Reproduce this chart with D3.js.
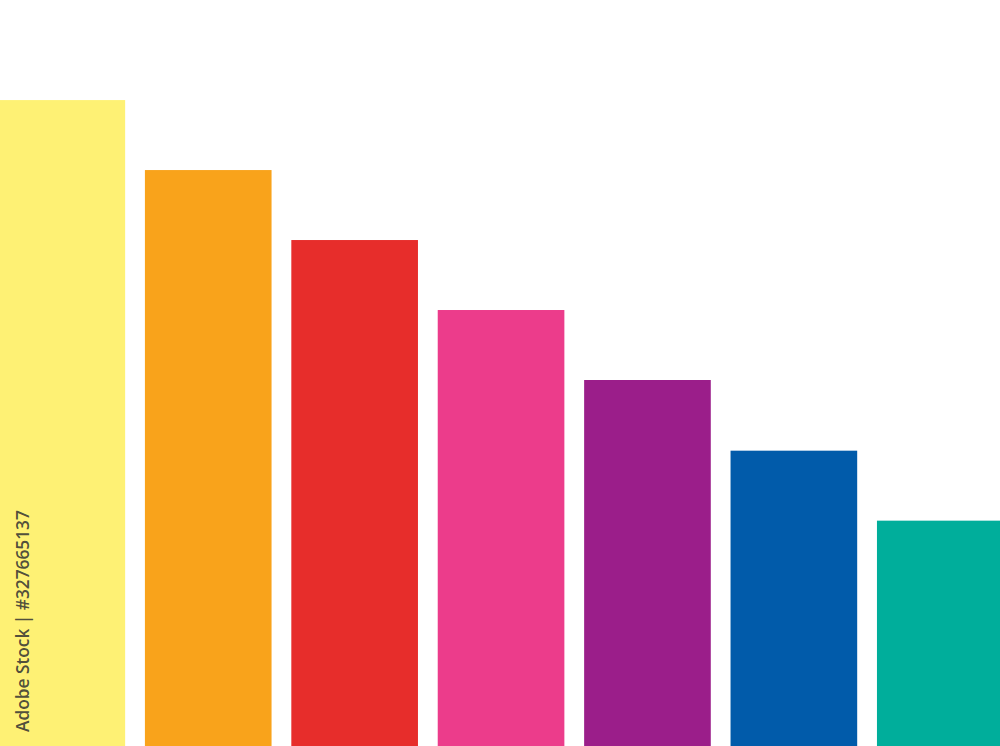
<!DOCTYPE html>
<html>
<head>
<meta charset="utf-8">
<script src="https://cdn.jsdelivr.net/npm/d3@7"></script>
<style>
  html, body { margin: 0; padding: 0; background: #ffffff; }
  svg { display: block; }
</style>
</head>
<body>
<svg id="chart" width="1000" height="746"></svg>
<script>
const categories = ["A", "B", "C", "D", "E", "F", "G"];
const values = [92.3, 82.3, 72.3, 62.3, 52.3, 42.2, 32.2];
const colors = ["#FEF174", "#F9A31B", "#E72D2B", "#EC3C8B", "#9B1E8A", "#015BAA", "#00AE9B"];
const creditText = "Adobe Stock | #327665137";

const W = 1000, H = 746;
const svg = d3.select("#chart");

const x = d3.scaleBand()
  .domain(categories)
  .range([-1.5, 1003.6])
  .paddingInner(0.135)
  .paddingOuter(0);

const y = d3.scaleLinear()
  .domain([0, 106.6])
  .range([H, 0]);

svg.selectAll("rect.bar")
  .data(categories)
  .join("rect")
  .attr("class", "bar")
  .attr("x", d => x(d))
  .attr("width", x.bandwidth())
  .attr("y", (d, i) => y(values[i]))
  .attr("height", (d, i) => H - y(values[i]))
  .attr("fill", (d, i) => colors[i]);

svg.append("text")
  .attr("transform", "translate(28.5,732) rotate(-90)")
  .attr("font-family", "'Open Sans', sans-serif")
  .attr("font-weight", 600)
  .attr("font-size", 17.3)
  .attr("fill", "#3a3a34")
  .attr("fill-opacity", 0.9)
  .text(creditText);
</script>
</body>
</html>
